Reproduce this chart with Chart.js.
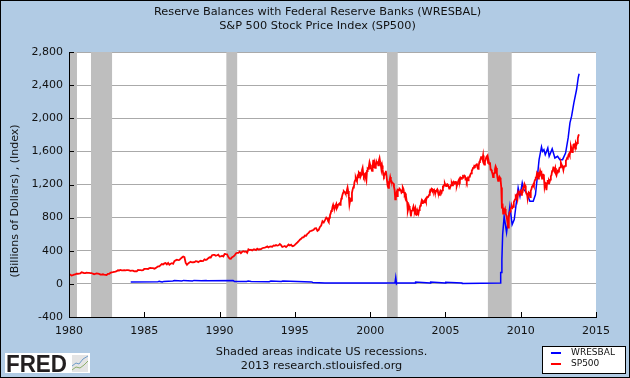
<!DOCTYPE html>
<html>
<head>
<meta charset="utf-8">
<script src="https://cdn.jsdelivr.net/npm/chart.js@4"></script>
<style>
    html, body { margin: 0; padding: 0; background: #B1CBE4; }
    canvas { display: block; }
</style>
</head>
<body>
<canvas id="fredChart" width="630" height="378"></canvas>
<script>
const FONT = "'DejaVu Sans', Verdana, sans-serif";

const titleLines = ["Reserve Balances with Federal Reserve Banks (WRESBAL)", "S&P 500 Stock Price Index (SP500)"];
const footerLines = ["Shaded areas indicate US recessions.", "2013 research.stlouisfed.org"];
const yAxisTitle = "(Billions of Dollars) , (Index)";
const seriesNames = ["WRESBAL", "SP500"];

const recessionStarts = [1980.0, 1981.46, 1990.45, 2001.12, 2007.82];
const recessionEnds = [1980.53, 1982.86, 1991.17, 2001.83, 2009.4];

// SP500 1980-1996, one value per month
const sp500Monthly = [
    114, 113, 102, 106, 111, 114, 122, 122, 125, 127, 140, 136,
    130, 131, 136, 133, 132, 131, 131, 123, 116, 122, 126, 123,
    120, 113, 112, 116, 112, 110, 107, 120, 120, 134, 139, 141,
    145, 148, 153, 164, 162, 168, 163, 164, 166, 164, 166, 165,
    163, 157, 159, 160, 151, 153, 151, 167, 166, 166, 164, 167,
    180, 181, 181, 180, 190, 192, 191, 189, 182, 190, 202, 211,
    212, 226, 239, 235, 247, 251, 236, 253, 231, 243, 249, 242,
    274, 284, 292, 288, 290, 304, 318, 330, 322, 252, 230, 247,
    257, 267, 259, 261, 262, 274, 272, 262, 272, 279, 274, 278,
    297, 289, 295, 310, 321, 318, 346, 351, 349, 340, 346, 353,
    329, 331, 340, 331, 361, 358, 356, 323, 306, 304, 322, 330,
    343, 367, 375, 375, 390, 371, 387, 395, 388, 392, 375, 417,
    409, 413, 404, 415, 415, 408, 424, 414, 418, 419, 431, 436,
    439, 443, 452, 440, 450, 451, 448, 464, 459, 468, 462, 466,
    481, 467, 445, 451, 457, 444, 458, 475, 463, 472, 454, 459,
    470, 487, 500, 515, 533, 545, 562, 562, 584, 582, 605, 616,
    636, 640, 645, 654, 669, 671, 640, 652, 687, 705, 757, 741
];

// SP500 from 1997 on, two values per month (the swings make the line look thick)
const sp500HalfMonthly = [
    770, 786, 800, 791, 790, 757, 745, 801, 830, 848, 880, 885, 930, 954, 925, 899, 920, 947, 965, 915, 930, 955, 955, 970,
    955, 980, 1030, 1049, 1080, 1101, 1120, 1112, 1110, 1091, 1095, 1133, 1165, 1121, 1060, 957, 1000, 1017, 1005, 1098, 1135, 1164, 1165, 1229,
    1250, 1280, 1255, 1238, 1300, 1286, 1345, 1335, 1340, 1301, 1320, 1373, 1400, 1329, 1300, 1320, 1330, 1283, 1250, 1363, 1395, 1389, 1420, 1469,
    1440, 1394, 1390, 1366, 1410, 1499, 1400, 1452, 1400, 1421, 1475, 1455, 1480, 1431, 1490, 1518, 1470, 1437, 1380, 1429, 1380, 1315, 1300, 1320,
    1340, 1366, 1310, 1240, 1180, 1160, 1190, 1249, 1290, 1256, 1240, 1224, 1220, 1211, 1170, 1134, 1020, 1041, 1090, 1060, 1140, 1139, 1130, 1148,
    1140, 1130, 1100, 1107, 1165, 1147, 1110, 1077, 1090, 1067, 1010, 990, 880, 912, 940, 916, 880, 815, 880, 886, 910, 936, 900, 880,
    910, 856, 835, 841, 870, 848, 890, 917, 945, 964, 1000, 975, 1000, 990, 985, 1008, 1020, 996, 1040, 1051, 1050, 1058, 1075, 1112,
    1135, 1131, 1150, 1145, 1120, 1126, 1135, 1107, 1095, 1121, 1130, 1141, 1110, 1102, 1075, 1104, 1125, 1115, 1110, 1130, 1175, 1174, 1195, 1212,
    1190, 1181, 1200, 1204, 1195, 1181, 1150, 1157, 1175, 1192, 1215, 1191, 1225, 1234, 1225, 1220, 1230, 1229, 1180, 1207, 1230, 1249, 1265, 1248,
    1285, 1280, 1275, 1281, 1300, 1295, 1310, 1311, 1265, 1270, 1240, 1270, 1250, 1277, 1295, 1304, 1325, 1336, 1365, 1378, 1400, 1401, 1425, 1418,
    1430, 1438, 1455, 1407, 1390, 1421, 1470, 1482, 1510, 1531, 1530, 1503, 1550, 1455, 1440, 1474, 1495, 1527, 1540, 1549, 1460, 1481, 1445, 1468,
    1380, 1379, 1355, 1331, 1290, 1323, 1340, 1386, 1420, 1400, 1340, 1280, 1245, 1267, 1295, 1283, 1250, 1165, 910, 969, 850, 896, 880, 903,
    850, 826, 790, 735, 680, 798, 860, 873, 910, 919, 940, 919, 930, 987, 1005, 1021, 1065, 1057, 1090, 1036, 1110, 1096, 1105, 1115,
    1140, 1074, 1095, 1104, 1165, 1169, 1205, 1187, 1125, 1089, 1090, 1031, 1090, 1102, 1095, 1049, 1125, 1141, 1175, 1183, 1200, 1181, 1240, 1258,
    1285, 1286, 1340, 1327, 1270, 1326, 1315, 1364, 1335, 1345, 1270, 1321, 1320, 1292, 1175, 1219, 1210, 1131, 1215, 1253, 1215, 1247, 1230, 1258,
    1300, 1312, 1360, 1366, 1405, 1408, 1370, 1398, 1330, 1310, 1345, 1362, 1355, 1379, 1405, 1407, 1465, 1441, 1430, 1412, 1375, 1416, 1420, 1426,
    1490, 1498, 1520, 1515, 1555, 1569, 1550, 1598, 1660, 1631, 1590, 1606, 1680, 1686, 1660, 1633, 1700, 1682, 1700, 1757, 1790, 1806
];

// WRESBAL, weekly data thinned to the turning points
const reserveDates = [
    1984.1, 1985.9, 1986.0, 1986.1, 1986.2, 1986.3, 1986.9, 1987.0, 1987.5, 1987.6, 1988.2, 1988.3, 1988.8, 1989.1, 1989.2,
    1990.9, 1991.0, 1991.8, 1991.9, 1992.1, 1993.3, 1993.4, 1994.1, 1994.2, 1996.1, 1996.2, 1997.0, 2001.65, 2001.7, 2001.75, 2001.8, 2001.85,
    2003.0, 2003.02, 2004.0, 2004.02, 2005.0, 2005.02, 2006.1, 2006.12, 2008.65,
    2008.67, 2008.71, 2008.75, 2008.8, 2008.9, 2009.06, 2009.28, 2009.43, 2009.57, 2009.68, 2009.83, 2009.95, 2010.1, 2010.2,
    2010.39, 2010.61, 2010.83, 2010.98, 2011.12, 2011.22, 2011.38, 2011.45, 2011.54, 2011.63, 2011.72, 2011.8, 2011.89, 2012.09, 2012.27,
    2012.45, 2012.6, 2012.78, 2012.98, 2013.15, 2013.27, 2013.38, 2013.53, 2013.71, 2013.82, 2013.88
];
const reserveValues = [
    24, 26, 30, 26, 22, 30, 34, 40, 36, 42, 36, 42, 38, 40, 38,
    40, 28, 28, 34, 28, 26, 34, 28, 34, 24, 18, 12, 12, 76, 2, 14, 12,
    12, 22, 12, 22, 12, 20, 12, 5, 12,
    136, 136, 293, 595, 817, 620, 937, 716, 777, 937, 1160, 1058, 1220, 1140,
    1100, 998, 998, 1079, 1320, 1500, 1655, 1600, 1620, 1560, 1600, 1640, 1540, 1630, 1520,
    1540, 1500, 1500, 1580, 1763, 1945, 2025, 2186, 2347, 2490, 2537
];

const yTickStep = 400;
const xTickStep = 5;

// 1980-1996 monthly, then half-monthly from 1997
const sp500Points = sp500Monthly.map((v, i) => ({ x: 1980 + i / 12, y: v }))
    .concat(sp500HalfMonthly.map((v, i) => ({ x: 1997 + i / 24, y: v })));
const reservePoints = reserveDates.map((d, i) => ({ x: d, y: reserveValues[i] }));

const fredPlugin = {
    id: "fredPlugin",
    // the two text blocks are centred a little right of the canvas middle
    afterLayout(chart) {
        chart.boxes.forEach(box => {
            if (box.options && box.options.text === titleLines) {
                box.left = 0;
                box.right = 635;
            }
            if (box.options && box.options.text === footerLines) {
                box.left = 0;
                box.right = 643;
            }
        });
    },
    beforeDraw(chart) {
        const ctx = chart.ctx, area = chart.chartArea;
        ctx.save();
        ctx.fillStyle = "#B1CBE4";
        ctx.fillRect(0, 0, chart.width, chart.height);
        ctx.fillStyle = "#FFFFFF";
        ctx.fillRect(area.left, area.top, area.right - area.left, area.bottom - area.top);
        ctx.restore();
    },
    // recession bands go over the grid but under the lines
    beforeDatasetsDraw(chart) {
        const ctx = chart.ctx, area = chart.chartArea, x = chart.scales.x;
        ctx.save();
        ctx.fillStyle = "#BEBEBE";
        recessionStarts.forEach((start, i) => {
            const left = x.getPixelForValue(start);
            ctx.fillRect(left, area.top, x.getPixelForValue(recessionEnds[i]) - left, area.bottom - area.top);
        });
        ctx.restore();
    },
    afterDraw(chart) {
        const ctx = chart.ctx, area = chart.chartArea;
        ctx.save();
        // inward tick marks
        ctx.strokeStyle = "#000000";
        ctx.lineWidth = 1;
        ctx.beginPath();
        chart.scales.y.ticks.forEach(t => {
            const py = Math.round(chart.scales.y.getPixelForValue(t.value)) + 0.5;
            ctx.moveTo(area.left, py);
            ctx.lineTo(area.left + 5, py);
        });
        chart.scales.x.ticks.forEach(t => {
            const px = Math.round(chart.scales.x.getPixelForValue(t.value)) + 0.5;
            ctx.moveTo(px, area.bottom);
            ctx.lineTo(px, area.bottom - 5);
        });
        ctx.stroke();

        // outer frame
        ctx.strokeStyle = "#000000";
        ctx.strokeRect(0.5, 0.5, chart.width - 1, chart.height - 1);

        // y axis title, sits lower than the middle of the axis
        ctx.save();
        ctx.translate(15, 201);
        ctx.rotate(-Math.PI / 2);
        ctx.fillStyle = "#111111";
        ctx.font = "11px " + FONT;
        ctx.textAlign = "center";
        ctx.textBaseline = "middle";
        ctx.fillText(yAxisTitle, 0, 0);
        ctx.restore();

        // legend box
        ctx.fillStyle = "#FFFFFF";
        ctx.fillRect(542, 346, 84, 28);
        ctx.strokeRect(542.5, 346.5, 83, 27);
        ctx.font = "9px " + FONT;
        ctx.textBaseline = "middle";
        seriesNames.forEach((name, i) => {
            const ly = 353 + i * 11;
            ctx.fillStyle = i === 0 ? "#0000FF" : "#FF0000";
            ctx.fillRect(551, ly - 1, 10, 2);
            ctx.fillStyle = "#111111";
            ctx.fillText(name, 571, ly);
        });

        // FRED logo
        ctx.fillStyle = "#FFFFFF";
        ctx.fillRect(5, 353, 85, 20);
        ctx.fillStyle = "#231F20";
        ctx.font = "bold 23px 'Liberation Sans', Arial, sans-serif";
        ctx.textBaseline = "alphabetic";
        ctx.fillText("FRED", 6, 372, 61);
        ctx.fillStyle = "#E4E4E4";
        ctx.fillRect(72, 355, 16, 17);
        ctx.lineWidth = 1;
        ctx.strokeStyle = "#6E9BC8";
        ctx.beginPath();
        ctx.moveTo(72, 366); ctx.lineTo(76, 363); ctx.lineTo(79, 364); ctx.lineTo(83, 359); ctx.lineTo(88, 356);
        ctx.stroke();
        ctx.strokeStyle = "#8DAE6A";
        ctx.beginPath();
        ctx.moveTo(72, 370); ctx.lineTo(76, 367); ctx.lineTo(80, 368); ctx.lineTo(84, 365); ctx.lineTo(88, 361);
        ctx.stroke();
        ctx.restore();
    }
};

new Chart(document.getElementById("fredChart").getContext("2d"), {
    type: "line",
    plugins: [fredPlugin],
    data: {
        datasets: [
            { label: seriesNames[0], data: reservePoints, borderColor: "#0000FF", borderWidth: 1.5, pointRadius: 0, tension: 0, order: 2 },
            { label: seriesNames[1], data: sp500Points, borderColor: "#FF0000", borderWidth: 1.8, pointRadius: 0, tension: 0, order: 1 }
        ]
    },
    options: {
        responsive: false,
        animation: false,
        layout: { padding: { left: 0, right: 34, top: 0, bottom: 0 } },
        plugins: {
            legend: { display: false },
            tooltip: { enabled: false },
            title: {
                display: true,
                text: titleLines,
                color: "#111111",
                font: { family: FONT, size: 11.3, weight: "normal", lineHeight: 14 / 11.3 },
                padding: { top: 5, bottom: 19 }
            },
            subtitle: {
                display: true,
                position: "bottom",
                text: footerLines,
                color: "#111111",
                font: { family: FONT, size: 11.3, weight: "normal", lineHeight: 14 / 11.3 },
                padding: { top: 0, bottom: 5 }
            }
        },
        scales: {
            x: {
                type: "linear",
                min: 1980,
                max: 2015,
                grid: { display: false, drawTicks: false },
                border: { display: true, color: "#000000", width: 1, z: 1 },
                afterFit(scale) { scale.height = 28; },
                ticks: {
                    stepSize: xTickStep,
                    padding: 8,
                    maxRotation: 0,
                    color: "#111111",
                    font: { family: FONT, size: 11 },
                    callback: value => String(value)
                }
            },
            y: {
                min: -400,
                max: 2800,
                grid: { color: "#AAAAAA", lineWidth: 1, drawTicks: false },
                border: { display: true, color: "#000000", width: 1, z: 1 },
                afterFit(scale) { scale.width = 69; },
                ticks: {
                    stepSize: yTickStep,
                    padding: 6,
                    color: "#111111",
                    font: { family: FONT, size: 11 }
                }
            }
        }
    }
});
</script>
</body>
</html>
